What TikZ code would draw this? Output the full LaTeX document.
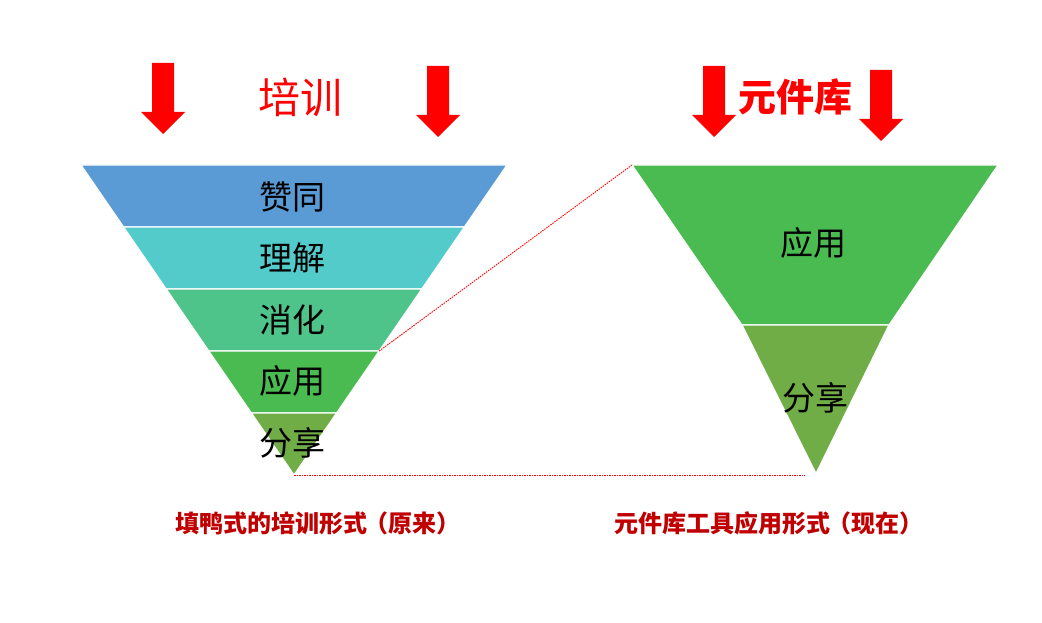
\documentclass[tikz,border=0pt]{standalone}
\usepackage{fontspec}
\setmainfont{Noto Sans CJK SC}

\definecolor{zantong}{HTML}{5B9BD5}
\definecolor{lijie}{HTML}{54CBCB}
\definecolor{xiaohua}{HTML}{4FC48A}
\definecolor{yingyong}{HTML}{4ABB50}
\definecolor{fenxiang}{HTML}{70AD47}
\definecolor{capred}{HTML}{C00000}

\begin{document}
\begin{tikzpicture}[x=1pt, y=-1pt,
    band/.style={draw=white, line width=1.2pt},
    lbl/.style={font=\fontsize{33}{36}\selectfont, inner sep=0pt},
    title/.style={text=red, inner sep=0pt},
    caption/.style={text=capred, font=\fontsize{24}{28}\selectfont\bfseries, inner sep=0pt},
    guide/.style={red, line width=0.9pt, dash pattern=on 1.5pt off 1pt}]
    \useasboundingbox (0,0) rectangle (1042,623);

    % red block arrows
    \foreach \x/\y in {163/63, 438/66, 714/66, 881/70}
      \fill[red] (\x-11,\y) -- (\x+11,\y) -- (\x+11,\y+49) -- (\x+22,\y+49)
        -- (\x,\y+71) -- (\x-22,\y+49) -- (\x-11,\y+49) -- cycle;
    \node[title, font=\fontsize{42}{46}\selectfont] (px) at (300,97) {培训};
    \node[title, font=\fontsize{38}{42}\selectfont\bfseries] (yjk) at (795,97) {元件库};

    % left funnel
    \foreach \i/\c/\t in {0/zantong/赞同, 1/lijie/理解, 2/xiaohua/消化, 3/yingyong/应用, 4/fenxiang/分享} {
      \fill[\c, band] (81+42.6*\i,165+62*\i) -- (507-42.6*\i,165+62*\i)
        -- (464.4-42.6*\i,227+62*\i) -- (123.6+42.6*\i,227+62*\i) -- cycle;
      \node[lbl] (L\i) at (292,196.5+61.6*\i) {\t};
    }
    \coordinate (Lcut) at (379.2,351);
    \coordinate (Ltip) at (294,475);

    % right funnel
    \coordinate (R1) at (632,165);
    \coordinate (R2) at (998,165);
    \coordinate (R3) at (889,325);
    \coordinate (R4) at (742,325);
    \coordinate (Rtip) at (816,473.5);
    \fill[yingyong, band] (R1) -- (R2) -- (R3) -- (R4) -- cycle;
    \fill[fenxiang, band] (R4) -- (R3) -- (Rtip) -- cycle;
    \node[lbl] (Ryy) at (813,243) {应用};
    \node[lbl] (Rfx) at (815,398) {分享};

    % dashed guides
    \coordinate (Lend) at (805,475);
    \draw[guide] (Lcut) -- (R1);
    \draw[guide] (Ltip) -- (Lend);

    \node[caption] (cap1) at (318,523) {填鸭式的培训形式\kern-.15em（原来）};
    \node[caption] (cap2) at (769,523) {元件库工具应用形式\kern-.15em（现在）};
\end{tikzpicture}
\end{document}
